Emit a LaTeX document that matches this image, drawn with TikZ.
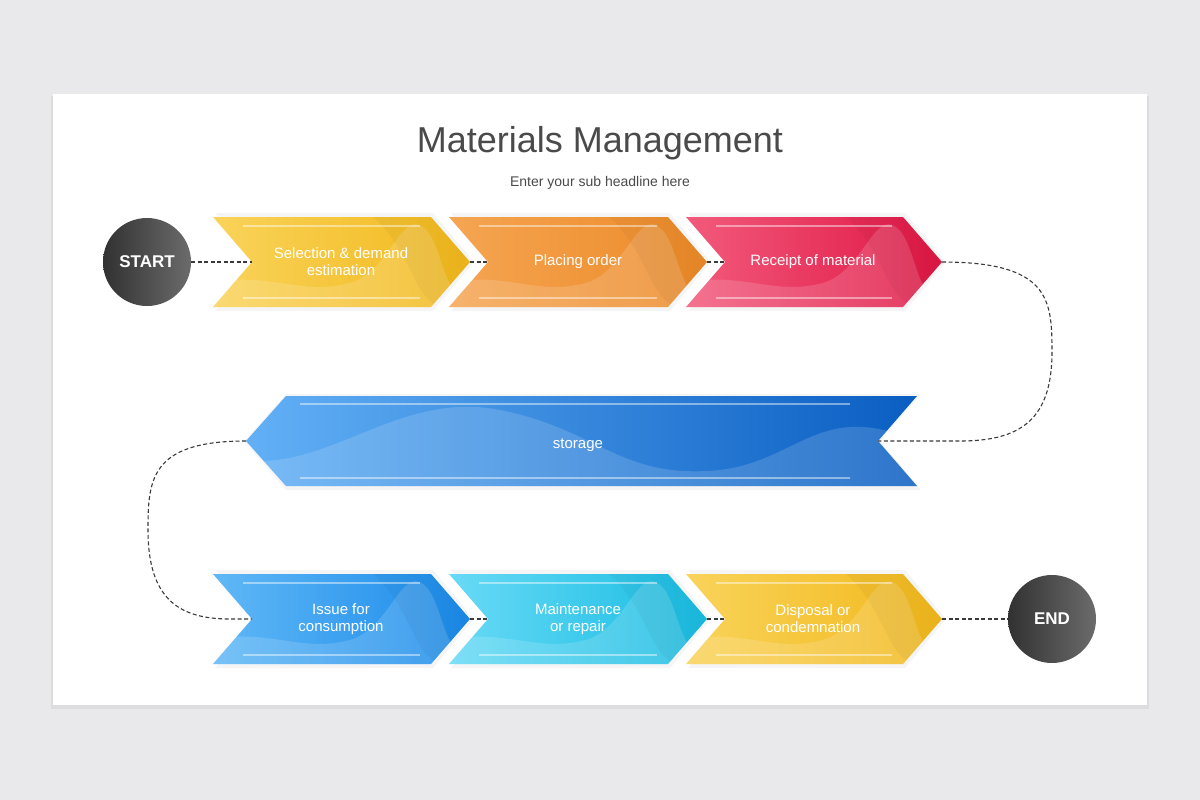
\documentclass[tikz,border=0pt]{standalone}
\usepackage{fontspec}
\setmainfont{Liberation Sans}
\definecolor{bg}{HTML}{E9E8EA}
\definecolor{ttl}{HTML}{4A4A4A}
\definecolor{dk}{HTML}{3A3A3A}
\definecolor{y1}{HTML}{F9D35A}\definecolor{y2}{HTML}{F2B81C}
\definecolor{o1}{HTML}{F5A552}\definecolor{o2}{HTML}{EC8A28}
\definecolor{r1}{HTML}{F25A7C}\definecolor{r2}{HTML}{E01644}
\definecolor{b1}{HTML}{62B0F6}\definecolor{b2}{HTML}{0A5EC2}
\definecolor{i1}{HTML}{60B8F6}\definecolor{i2}{HTML}{1A8AEA}
\definecolor{m1}{HTML}{68DAF6}\definecolor{m2}{HTML}{18BCE2}
\tikzset{
  lbl/.style={text=white,font=\fontsize{15}{17}\selectfont,align=center},
  conn/.style={draw=dk,line width=1.1pt,dash pattern=on 4pt off 2.5pt},
  circ/.style={circle,minimum size=88pt,inner sep=0pt,text=white,font=\bfseries\fontsize{17}{19}\selectfont,left color=dk!85!black,right color=dk!75!white}
}
\newcommand{\mychev}[6]{%
  \fill[black,opacity=0.04] (#1+2,#3-49)--(#2-37,#3-49)--(#2+4,#3)--(#2-37,#3+49)--(#1+2,#3+49)--(#1+43,#3)--cycle;
  \begin{scope}
  \clip (#1,#3-45)--(#2-39,#3-45)--(#2,#3)--(#2-39,#3+45)--(#1,#3+45)--(#1+39,#3)--cycle;
  \shade[left color=#4,right color=#5] (#1,#3-46) rectangle (#2,#3+46);
  \fill[white,opacity=0.15] (#1,#3+20) .. controls (#1+60,#3+10) and (#1+90,#3+35) .. (#1+140,#3+20) .. controls (#1+180,#3+5) and (#1+190,#3-60) .. (#1+215,#3-30) .. controls (#1+230,#3-10) and (#1+230,#3+30) .. (#2,#3+45) -- (#1,#3+45) -- cycle;
  \fill[black,opacity=0.03] (#1+160,#3-45) .. controls (#1+200,#3-10) and (#1+200,#3+40) .. (#1+230,#3+45) -- (#2,#3+45) -- (#2,#3-45) -- cycle;
  \fill[white,opacity=0.45] (#1+30,#3-37) rectangle (#2-50,#3-35);
  \fill[white,opacity=0.45] (#1+30,#3+35) rectangle (#2-50,#3+37);
  \end{scope}
  \coordinate (#6-n) at (#1+39,#3);
  \coordinate (#6-t) at (#2,#3);
}
\begin{document}
\begin{tikzpicture}[x=1pt,y=-1pt]
\useasboundingbox (0,0) rectangle (1200,800);
\fill[bg] (0,0) rectangle (1200,800);
\fill[black,opacity=0.05] (51,96) rectangle (1149,709);
\fill[white] (53,94) rectangle (1147,705);
\node[text=ttl,font=\fontsize{36}{40}\selectfont] (title) at (600,143) {Materials Management};
\node[text=ttl,font=\fontsize{14}{16}\selectfont] (sub) at (600,183) {Enter your sub headline here};
\mychev{213}{470}{262}{y1}{y2}{a}
\node[lbl] (la) at (341,262) {Selection \& demand\\estimation};
\mychev{449}{707}{262}{o1}{o2}{b}
\node[lbl] (lb) at (578,262) {Placing order};
\mychev{686}{942}{262}{r1}{r2}{c}
\node[lbl] (lc) at (813,262) {Receipt of material};
\fill[black,opacity=0.04] (244,441)--(286,394)--(921,394)--(880,441)--(921,490)--(286,490)--cycle;
\begin{scope}
\clip (246,441)--(286,396)--(917,396)--(878,441)--(917,486)--(286,486)--cycle;
\shade[left color=b1,right color=b2] (246,395) rectangle (917,487);
\fill[white,opacity=0.15] (246,460) .. controls (330,470) and (400,390) .. (500,410) .. controls (600,430) and (620,480) .. (720,470) .. controls (800,460) and (820,400) .. (917,441) -- (917,486) -- (246,486) -- cycle;
\fill[white,opacity=0.45] (300,403) rectangle (850,405);
\fill[white,opacity=0.45] (300,477) rectangle (850,479);
\end{scope}
\coordinate (s-l) at (246,441);
\coordinate (s-r) at (878,441);
\node[lbl] (ls) at (578,445) {storage};
\mychev{213}{470}{619}{i1}{i2}{d}
\node[lbl] (ld) at (341,619) {Issue for\\consumption};
\mychev{449}{707}{619}{m1}{m2}{e}
\node[lbl] (le) at (578,619) {Maintenance\\or repair};
\mychev{686}{942}{619}{y1}{y2}{f}
\node[lbl] (lf) at (813,619) {Disposal or\\condemnation};
\node[circ] (start) at (147,262) {START};
\node[circ] (end) at (1052,619) {END};
\draw[conn] (start.east) -- (a-n);
\draw[conn] (a-t) -- (b-n);
\draw[conn] (b-t) -- (c-n);
\draw[conn] (c-t) .. controls (1050,262) and (1052,300) .. (1052,352) .. controls (1052,420) and (1020,441) .. (960,441) -- (s-r);
\draw[conn] (s-l) .. controls (150,441) and (148,480) .. (148,530) .. controls (148,600) and (180,619) .. (230,619) -- (d-n);
\draw[conn] (d-t) -- (e-n);
\draw[conn] (e-t) -- (f-n);
\draw[conn] (f-t) -- (end.west);
\end{tikzpicture}
\end{document}
